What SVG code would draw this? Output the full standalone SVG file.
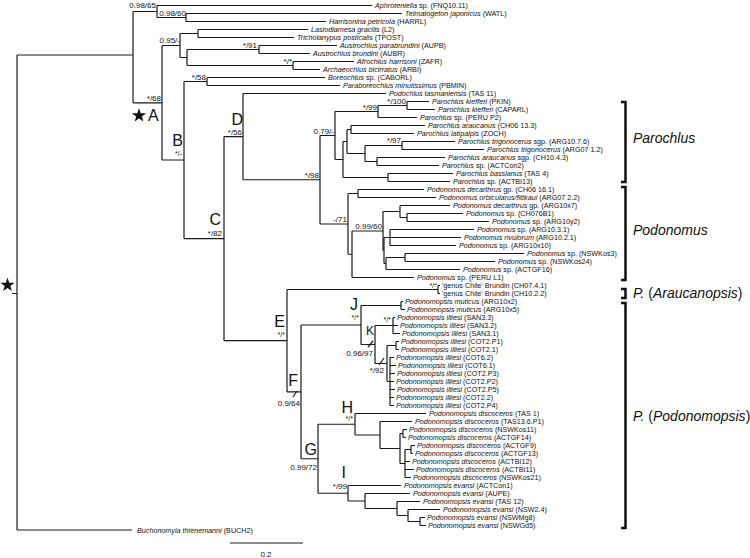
<svg xmlns="http://www.w3.org/2000/svg" xmlns:xlink="http://www.w3.org/1999/xlink" width="750" height="558" viewBox="0 0 750 558">
<style>
text{font-family:"Liberation Sans",Arial,sans-serif;fill:#111}
.t{font-size:7.2px}
.i{font-style:italic}
.s{font-size:8px;text-anchor:end}
.ss{font-size:7px;text-anchor:end}
.L{font-size:16px;text-anchor:end}
.g{font-size:14px}
.br path,path.br{fill:none;stroke:#111;stroke-width:2.5}
#connectors path{fill:none;stroke:#1a1a1a;stroke-width:1.2}
</style>
<defs>
<polygon id="star" points="0,-7.5 1.7,-2.3 7.1,-2.3 2.8,0.9 4.4,6.1 0,2.9 -4.4,6.1 -2.8,0.9 -7.1,-2.3 -1.7,-2.3" fill="#111"/>
</defs>
<rect width="750" height="558" fill="#fff"/>
<g id="connectors">
<path d="M17 55V530 M17 55H133 M17 530H132 M12 293.5H17"/>
<path d="M133 11.5V102.8 M133 11.5H157 M133 102.8H162"/>
<path d="M157 5.5V17.5 M157 5.5H372 M157 17.5H186"/>
<path d="M186 13.5V21.5 M186 13.5H402 M186 21.5H326"/>
<path d="M162 45.5V160 M162 45.5H180 M162 160H184"/>
<path d="M180 33.5V57.5 M180 33.5H198 M180 57.5H187"/>
<path d="M198 29.5V37.5 M198 29.5H308 M198 37.5H294"/>
<path d="M187 49.5V65.5 M187 49.5H259 M187 65.5H293"/>
<path d="M259 45.5V53.5 M259 45.5H337 M259 53.5H310"/>
<path d="M293 61.5V69.5 M293 61.5H354 M293 69.5H320"/>
<path d="M184 81.5V238.6 M184 81.5H207 M184 238.6H224"/>
<path d="M207 77.5V85.5 M207 77.5H325 M207 85.5H340"/>
<path d="M224 136.6V340.7 M224 136.6H243 M224 340.7H287"/>
<path d="M243 93.5V179.75 M243 93.5H386 M243 179.75H320"/>
<path d="M320 135.5V224 M320 135.5H335 M320 224H348"/>
<path d="M335 111.5V159.5 M335 111.5H378 M335 159.5H343"/>
<path d="M378 105.5V117.5 M378 105.5H407 M378 117.5H417"/>
<path d="M407 101.5V109.5 M407 101.5H429 M407 109.5H435"/>
<path d="M343 141.5V177.5 M343 141.5H347 M343 177.5H388"/>
<path d="M347 129.5V153.5 M347 129.5H351 M347 153.5H365"/>
<path d="M351 125.5V133.5 M351 125.5H425 M351 133.5H414"/>
<path d="M365 145.5V161.5 M365 145.5H402 M365 161.5H377"/>
<path d="M402 141.5V149.5 M402 141.5H455 M402 149.5H484"/>
<path d="M377 157.5V165.5 M377 157.5H445 M377 165.5H439"/>
<path d="M388 173.5V181.5 M388 173.5H453 M388 181.5H450"/>
<path d="M348 193.5V254.25 M348 193.5H358 M348 254.25H352"/>
<path d="M358 189.5V197.5 M358 189.5H424 M358 197.5H436"/>
<path d="M352 231V277.5 M352 231H383 M352 277.5H414"/>
<path d="M383 211.5V250.5 M383 211.5H400 M383 250.5H384"/>
<path d="M400 205.5V217.5 M400 205.5H450 M400 217.5H407"/>
<path d="M407 213.5V221.5 M407 213.5H463 M407 221.5H489"/>
<path d="M384 237.5V263.5 M384 237.5H390 M384 263.5H386"/>
<path d="M390 229.5V245.5 M390 229.5H474 M390 237.5H461 M390 245.5H456"/>
<path d="M386 257.5V269.5 M386 257.5H405 M386 269.5H460"/>
<path d="M405 253.5V261.5 M405 253.5H524 M405 261.5H495"/>
<path d="M287 289.5V391.9 M287 289.5H438 M287 391.9H301"/>
<path d="M438 285.5V293.5 M438 285.5H440 M438 293.5H440"/>
<path d="M301 325V458.75 M301 325H361 M301 458.75H318"/>
<path d="M361 305.5V344.5 M361 305.5H401 M361 344.5H375"/>
<path d="M401 301.5V309.5 M401 301.5H403 M401 309.5H405"/>
<path d="M375 325.5V363.5 M375 325.5H393 M375 363.5H387"/>
<path d="M393 317.5V333.5 M393 317.5H395 M393 325.5H398 M393 333.5H400"/>
<path d="M387 345.5V381.5 M387 345.5H396 M387 381.5H390"/>
<path d="M396 341.5V349.5 M396 341.5H399 M396 349.5H399"/>
<path d="M390 357.5V405.5 M390 357.5H394 M390 365.5H396 M390 373.5H395 M390 381.5H394 M390 389.5H395 M390 397.5H394 M390 405.5H394"/>
<path d="M318 424.25V493.25 M318 424.25H355 M318 493.25H348"/>
<path d="M355 413.5V435 M355 413.5H426 M355 435H380"/>
<path d="M380 421.5V448.5 M380 421.5H412 M380 448.5H400"/>
<path d="M400 433.5V463.5 M400 433.5H403 M400 463.5H405"/>
<path d="M403 429.5V437.5 M403 429.5H407 M403 437.5H406"/>
<path d="M405 449.5V477.5 M405 449.5H411 M405 461.5H410 M405 469.5H414 M405 477.5H411"/>
<path d="M411 445.5V453.5 M411 445.5H415 M411 453.5H413"/>
<path d="M348 485.5V501 M348 485.5H401 M348 501H365"/>
<path d="M365 493.5V508.5 M365 493.5H410 M365 508.5H397"/>
<path d="M397 501.5V515.5 M397 501.5H420 M397 515.5H408"/>
<path d="M408 509.5V521.5 M408 509.5H440 M408 521.5H420"/>
<path d="M420 517.5V525.5 M420 517.5H425 M420 525.5H426"/>
<path d="M368 347L373 341 M379 365L384 358 M293 397L297 391"/>
</g>
<g id="tips" class="t">
<g id="t01"><text class="t" x="375" y="8"><tspan class="i">Aphroteniella</tspan> sp. (FNQ10.11)</text></g>
<g id="t02"><text class="t" x="405" y="16"><tspan class="i">Telmatogeton japonicus</tspan> (WATL)</text></g>
<g id="t03"><text class="t" x="329" y="24"><tspan class="i">Harrisonina petricola</tspan> (HARRL)</text></g>
<g id="t04"><text class="t" x="311" y="32"><tspan class="i">Lasiodiamesa gracilis</tspan> (L2)</text></g>
<g id="t05"><text class="t" x="297" y="40"><tspan class="i">Tricholanypus posticalis</tspan> (TPOST)</text></g>
<g id="t06"><text class="t" x="340" y="48"><tspan class="i">Austrochlus parabrundini</tspan> (AUPB)</text></g>
<g id="t07"><text class="t" x="313" y="56"><tspan class="i">Austrochlus brundini</tspan> (AUBR)</text></g>
<g id="t08"><text class="t" x="357" y="64"><tspan class="i">Afrochlus harrisoni</tspan> (ZAFR)</text></g>
<g id="t09"><text class="t" x="323" y="72"><tspan class="i">Archaeochlus bicirratus</tspan> (ARBI)</text></g>
<g id="t10"><text class="t" x="328" y="80"><tspan class="i">Boreochlus</tspan> sp. (CABORL)</text></g>
<g id="t11"><text class="t" x="343" y="88"><tspan class="i">Paraboreochlus minutissimus</tspan> (PBMIN)</text></g>
<g id="t12"><text class="t" x="389" y="96"><tspan class="i">Podochlus tasmaniensis</tspan> (TAS 11)</text></g>
<g id="t13"><text class="t" x="432" y="104"><tspan class="i">Parochlus kiefferi</tspan> (PKIN)</text></g>
<g id="t14"><text class="t" x="438" y="112"><tspan class="i">Parochlus kiefferi</tspan> (CAPARL)</text></g>
<g id="t15"><text class="t" x="420" y="120"><tspan class="i">Parochlus</tspan> sp. (PERU P2)</text></g>
<g id="t16"><text class="t" x="428" y="128"><tspan class="i">Parochlus araucanus</tspan> (CH06 13.3)</text></g>
<g id="t17"><text class="t" x="417" y="136"><tspan class="i">Parochlus latipalpis</tspan> (ZOCH)</text></g>
<g id="t18"><text class="t" x="458" y="144"><tspan class="i">Parochlus trigonocerus</tspan> sgp. (ARG10.7.6)</text></g>
<g id="t19"><text class="t" x="487" y="152"><tspan class="i">Parochlus trigonocerus</tspan> (ARG07 1.2)</text></g>
<g id="t20"><text class="t" x="448" y="160"><tspan class="i">Parochlus araucanus</tspan> sgp. (CH10.4.3)</text></g>
<g id="t21"><text class="t" x="442" y="168"><tspan class="i">Parochlus</tspan> sp. (ACTCon2)</text></g>
<g id="t22"><text class="t" x="456" y="176"><tspan class="i">Parochlus bassianus</tspan> (TAS 4)</text></g>
<g id="t23"><text class="t" x="453" y="184"><tspan class="i">Parochlus</tspan> sp. (ACTBI13)</text></g>
<g id="t24"><text class="t" x="427" y="192"><tspan class="i">Podonomus decarthrus</tspan> gp. (CH06 16.1)</text></g>
<g id="t25"><text class="t" x="439" y="200"><tspan class="i">Podonomus orbicularus/fittkaui</tspan> (ARG07 2.2)</text></g>
<g id="t26"><text class="t" x="453" y="208"><tspan class="i">Podonomus decarthrus</tspan> gp. (ARG10x7)</text></g>
<g id="t27"><text class="t" x="466" y="216"><tspan class="i">Podonomus</tspan> sp. (CH076B1)</text></g>
<g id="t28"><text class="t" x="492" y="224"><tspan class="i">Podonomus</tspan> sp. (ARG10y2)</text></g>
<g id="t29"><text class="t" x="477" y="232"><tspan class="i">Podonomus</tspan> sp. (ARG10.3.1)</text></g>
<g id="t30"><text class="t" x="464" y="240"><tspan class="i">Podonomus rivulorum</tspan> (ARG10.2.1)</text></g>
<g id="t31"><text class="t" x="459" y="248"><tspan class="i">Podonomus</tspan> sp. (ARG10x10)</text></g>
<g id="t32"><text class="t" x="527" y="256"><tspan class="i">Podonomus</tspan> sp. (NSWKos3)</text></g>
<g id="t33"><text class="t" x="498" y="264"><tspan class="i">Podonomus</tspan> sp. (NSWKos24)</text></g>
<g id="t34"><text class="t" x="463" y="272"><tspan class="i">Podonomus</tspan> sp. (ACTGF16)</text></g>
<g id="t35"><text class="t" x="417" y="280"><tspan class="i">Podonomus</tspan> sp. (PERU L1)</text></g>
<g id="t36"><text class="t" x="442" y="288">'genus Chile' Brundin (CH07.4.1)</text></g>
<g id="t37"><text class="t" x="442" y="296">'genus Chile' Brundin (CH10.2.2)</text></g>
<g id="t38"><text class="t" x="405" y="304"><tspan class="i">Podonomopsis muticus</tspan> (ARG10x2)</text></g>
<g id="t39"><text class="t" x="407" y="312"><tspan class="i">Podonomopsis muticus</tspan> (ARG10x5)</text></g>
<g id="t40"><text class="t" x="397" y="320"><tspan class="i">Podonomopsis illiesi</tspan> (SAN3.3)</text></g>
<g id="t41"><text class="t" x="400" y="328"><tspan class="i">Podonomopsis illiesi</tspan> (SAN3.2)</text></g>
<g id="t42"><text class="t" x="402" y="336"><tspan class="i">Podonomopsis illiesi</tspan> (SAN3.1)</text></g>
<g id="t43"><text class="t" x="401" y="344"><tspan class="i">Podonomopsis illiesi</tspan> (COT2.P1)</text></g>
<g id="t44"><text class="t" x="401" y="352"><tspan class="i">Podonomopsis illiesi</tspan> (COT2.1)</text></g>
<g id="t45"><text class="t" x="396" y="360"><tspan class="i">Podonomopsis illiesi</tspan> (COT6.2)</text></g>
<g id="t46"><text class="t" x="398" y="368"><tspan class="i">Podonomopsis illiesi</tspan> (COT6.1)</text></g>
<g id="t47"><text class="t" x="397" y="376"><tspan class="i">Podonomopsis illiesi</tspan> (COT2.P3)</text></g>
<g id="t48"><text class="t" x="396" y="384"><tspan class="i">Podonomopsis illiesi</tspan> (COT2.P2)</text></g>
<g id="t49"><text class="t" x="397" y="392"><tspan class="i">Podonomopsis illiesi</tspan> (COT2.P5)</text></g>
<g id="t50"><text class="t" x="396" y="400"><tspan class="i">Podonomopsis illiesi</tspan> (COT2.2)</text></g>
<g id="t51"><text class="t" x="396" y="408"><tspan class="i">Podonomopsis illiesi</tspan> (COT2.P4)</text></g>
<g id="t52"><text class="t" x="429" y="416"><tspan class="i">Podonomopsis discoceros</tspan> (TAS 1)</text></g>
<g id="t53"><text class="t" x="415" y="424"><tspan class="i">Podonomopsis discoceros</tspan> (TAS13.6.P1)</text></g>
<g id="t54"><text class="t" x="409" y="432"><tspan class="i">Podonomopsis discoceros</tspan> (NSWKos11)</text></g>
<g id="t55"><text class="t" x="408" y="440"><tspan class="i">Podonomopsis discoceros</tspan> (ACTGF14)</text></g>
<g id="t56"><text class="t" x="417" y="448"><tspan class="i">Podonomopsis discoceros</tspan> (ACTGF9)</text></g>
<g id="t57"><text class="t" x="415" y="456"><tspan class="i">Podonomopsis discoceros</tspan> (ACTGF13)</text></g>
<g id="t58"><text class="t" x="412" y="464"><tspan class="i">Podonomopsis discoceros</tspan> (ACTBI12)</text></g>
<g id="t59"><text class="t" x="416" y="472"><tspan class="i">Podonomopsis discoceros</tspan> (ACTBI11)</text></g>
<g id="t60"><text class="t" x="413" y="480"><tspan class="i">Podonomopsis discoceros</tspan> (NSWKos21)</text></g>
<g id="t61"><text class="t" x="404" y="488"><tspan class="i">Podonomopsis evansi</tspan> (ACTCon1)</text></g>
<g id="t62"><text class="t" x="413" y="496"><tspan class="i">Podonomopsis evansi</tspan> (AUPE)</text></g>
<g id="t63"><text class="t" x="423" y="504"><tspan class="i">Podonomopsis evansi</tspan> (TAS 12)</text></g>
<g id="t64"><text class="t" x="443" y="512"><tspan class="i">Podonomopsis evansi</tspan> (NSW2.4)</text></g>
<g id="t65"><text class="t" x="427" y="520"><tspan class="i">Podonomopsis evansi</tspan> (NSWMg8)</text></g>
<g id="t66"><text class="t" x="428" y="528"><tspan class="i">Podonomopsis evansi</tspan> (NSWGd5)</text></g>
<g id="t67"><text class="t" x="137" y="532.5"><tspan class="i">Buchonomyia thienemanni</tspan> (BUCH2)</text></g>
</g>
<g id="nodes">
<g id="n-root"><use xlink:href="#star" href="#star" x="7.5" y="285"/></g>
<g id="n-aph"><text class="s" x="156" y="8">0.98/65</text></g>
<g id="n-telm"><text class="s" x="186" y="15.5">0.98/60</text></g>
<g id="n-095"><text class="s" x="180" y="43">0.95/-</text></g>
<g id="n-aus"><text class="s" x="257" y="47.5">*/91</text></g>
<g id="n-afro"><text class="s" x="292" y="63.5">*/*</text></g>
<g id="n-A"><use xlink:href="#star" href="#star" x="139" y="115.5"/><text x="148" y="121" style="font-size:16px">A</text><text class="s" x="161" y="100.5">*/68</text></g>
<g id="n-boreo"><text class="s" x="206" y="79.5">*/58</text></g>
<g id="n-B"><text class="L" x="183" y="146">B</text><text class="ss" x="182" y="156">*/-</text></g>
<g id="n-C"><text class="L" x="221" y="225">C</text><text class="s" x="222" y="236">*/82</text></g>
<g id="n-D"><text class="L" x="243" y="125">D</text><text class="s" x="242" y="135">*/56</text></g>
<g id="n-98"><text class="s" x="319" y="177.5">*/98</text></g>
<g id="n-079"><text class="s" x="334" y="133.5">0.79/-</text></g>
<g id="n-99"><text class="s" x="377" y="109.5">*/99</text></g>
<g id="n-100"><text class="s" x="406" y="103.5">*/100</text></g>
<g id="n-97"><text class="s" x="401" y="143">*/97</text></g>
<g id="n-71"><text class="s" x="347" y="222">-/71</text></g>
<g id="n-099"><text class="s" x="382" y="229">0.99/60</text></g>
<g id="n-gc"><text class="ss" x="437" y="287.5">*/*</text></g>
<g id="n-E"><text class="L" x="285" y="327">E</text><text class="ss" x="285" y="337">*/*</text></g>
<g id="n-J"><text class="L" x="358" y="310">J</text><text class="ss" x="359" y="320">*/*</text></g>
<g id="n-san"><text class="ss" x="391" y="322">*/*</text></g>
<g id="n-K"><text x="374" y="335" style="font-size:12px;text-anchor:end">K</text><text class="s" x="373" y="356">0.96/97</text></g>
<g id="n-cot"><text class="s" x="384" y="373">*/92</text></g>
<g id="n-F"><text class="L" x="298" y="386">F</text><text class="s" x="300" y="406">0.9/64</text></g>
<g id="n-H"><text class="L" x="353" y="413">H</text><text class="ss" x="353" y="421">*/*</text></g>
<g id="n-G"><text class="L" x="317" y="455">G</text><text class="s" x="317" y="470">0.99/72</text></g>
<g id="n-I"><text class="L" x="346" y="478">I</text><text class="s" x="347" y="489">*/99</text></g>
</g>
<g id="clades">
<g id="c-parochlus"><path class="br" d="M621 102H625.5V182H621"/><text class="g i" x="633" y="143">Parochlus</text></g>
<g id="c-podonomus"><path class="br" d="M621 187H625.5V280H621"/><text class="g i" x="633" y="235">Podonomus</text></g>
<g id="c-araucanopsis"><path class="br" d="M621 289H625.5V298H621"/><text class="g" x="633" y="298"><tspan class="i">P.</tspan> (<tspan class="i">Araucanopsis</tspan>)</text></g>
<g id="c-podonomopsis"><path class="br" d="M621 303H625.5V528H621"/><text class="g" x="633" y="421"><tspan class="i">P.</tspan> (<tspan class="i">Podonomopsis</tspan>)</text></g>
</g>
<g id="scale"><path d="M230 543H303" stroke="#1a1a1a" stroke-width="1.2"/><text x="266" y="557" style="font-size:8px;text-anchor:middle">0.2</text></g>
</svg>
